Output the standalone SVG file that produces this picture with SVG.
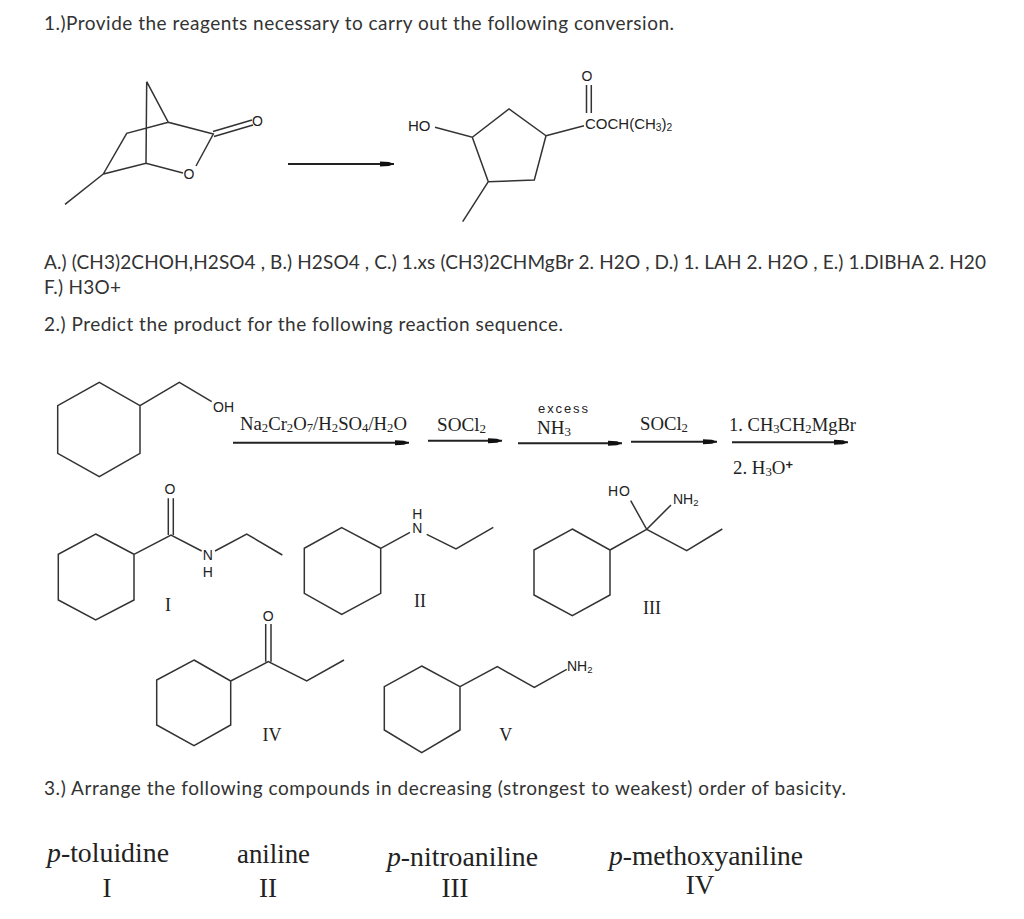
<svg xmlns="http://www.w3.org/2000/svg" width="1024" height="919" viewBox="0 0 1024 919">
<style>
.q{font-family:Lato,"Open Sans",sans-serif;font-size:19px;fill:#333}
.b{fill:none;stroke:#333;stroke-width:1.5;stroke-linejoin:miter}
.a{font-family:"Liberation Sans",Arial,sans-serif;font-size:14px;fill:#222}
.s{font-family:"Liberation Serif","Times New Roman",serif;font-size:18px;fill:#222}
.t{font-family:"Liberation Serif","Times New Roman",serif;font-size:27px;fill:#222}
.sub{font-size:68%}
.r{fill:none;stroke:#222;stroke-width:2;marker-end:url(#h)}
.m{text-anchor:middle}
</style>
<defs>
<marker id="h" markerUnits="userSpaceOnUse" markerWidth="14" markerHeight="8" refX="14" refY="4" orient="auto">
<path d="M0 1.500 L9 2 L14 4 L9 6 L0 6.500Z" fill="#111"/>
</marker>
</defs>
<rect width="1024" height="919" fill="#fff"/>

<g id="questions">
<text class="q" x="44" y="30" textLength="630">1.)Provide the reagents necessary to carry out the following conversion.</text>
<text class="q" x="44" y="269" textLength="942">A.) (CH3)2CHOH,H2SO4 , B.) H2SO4 , C.) 1.xs (CH3)2CHMgBr 2. H2O , D.) 1. LAH 2. H2O , E.) 1.DIBHA 2. H20</text>
<text class="q" x="44" y="294" textLength="77">F.) H3O+</text>
<text class="q" x="44" y="331" textLength="519">2.) Predict the product for the following reaction sequence.</text>
<text class="q" x="44" y="795" textLength="802">3.) Arrange the following compounds in decreasing (strongest to weakest) order of basicity.</text>
</g>

<g id="lactone">
<path class="b" d="M146.700 81.700L168.300 122.300L213.300 134L196 166M168.300 122.300L126.700 133.300L103.300 174L146 163.300L183 173M146.700 81.700L146 163.300M103.300 174L65 204.300M213 131.500L252 120M214 136.500L253 125"/>
<text class="a m" x="189" y="179">O</text>
<text class="a m" x="257.500" y="126">O</text>
</g>

<g id="hydroxyketone">
<path class="b" d="M435 127.300L472.300 137.300L509 109L546 135.700L534.300 180L488.300 181.700L472.300 137.300M488.300 181.700L462.700 221.700M546 135.700L584 125.700M586.500 85V113M591.300 85V113"/>
<text class="a" x="408" y="131" style="font-size:15px">HO</text>
<text class="a m" x="587" y="81" style="font-size:14px">O</text>
<text class="a" x="585" y="129" style="font-size:15px">COCH(CH<tspan class="sub" dy="2">3</tspan><tspan dy="-2">)</tspan><tspan class="sub" dy="2">2</tspan></text>
</g>

<g id="alcohol">
<path class="b" d="M99.300 382.300L140 405.700V453.300L99.300 476.700L57.700 453.300V405.700ZM140 405.700L179.300 382.300L211.700 401.700"/>
<text class="a" x="213" y="412">OH</text>
</g>

<g id="compound-I">
<path class="b" d="M95.700 534L134 554.300V600L95.700 620L58.300 600V554.300ZM134 554.300L171 535L201.700 551M215 551L246.700 534L282.300 555M168.300 498.300V535M173.300 498.300V535"/>
<text class="a m" x="170" y="494">O</text>
<text class="a m" x="207.700" y="560">N</text>
<text class="a m" x="207.700" y="577">H</text>
<text class="s m" x="168" y="611">I</text>
</g>

<g id="compound-II">
<path class="b" d="M341.700 527.700L380.700 548.300V593.300L341.700 614.300L304.300 593.300V548.300ZM380.700 548.300L410 532.300M426.700 534.300L456 549L493.300 527.300"/>
<text class="a m" x="417.300" y="518.500">H</text>
<text class="a m" x="417.300" y="533">N</text>
<text class="s m" x="420" y="607">II</text>
</g>

<g id="compound-III">
<path class="b" d="M572.300 529L610 550V595L572.300 615.700L534 595V550ZM610 550L646.700 529.300L686.700 550.700L722.300 529M630.700 500.700L646.700 529.300L671 505"/>
<text class="a" x="608" y="496" textLength="22">HO</text>
<text class="a" x="673" y="504">NH<tspan class="sub" dy="2">2</tspan></text>
<text class="s m" x="652" y="614">III</text>
</g>

<g id="compound-IV">
<path class="b" d="M194 660L230.700 681V725L194 745.700L156.700 725V680ZM230.700 681L268.300 661.700L306.700 681L344 660M265.700 624V661.700M271 624V661.700"/>
<text class="a m" x="268.300" y="621">O</text>
<text class="s m" x="272" y="741">IV</text>
</g>

<g id="compound-V">
<path class="b" d="M421.700 666L460 686.700V730L421.700 752.700L384.300 730V686.700ZM460 686.700L497.300 666.700L534.300 687.300L566.700 669.300"/>
<text class="a" x="567" y="670.500">NH<tspan class="sub" dy="2">2</tspan></text>
<text class="s m" x="505.700" y="741">V</text>
</g>

<g id="reagents">
<text class="s" x="240" y="430" textLength="167" lengthAdjust="spacingAndGlyphs">Na<tspan class="sub" dy="2">2</tspan><tspan dy="-2">Cr</tspan><tspan class="sub" dy="2">2</tspan><tspan dy="-2">O</tspan><tspan class="sub" dy="2">7</tspan><tspan dy="-2">/H</tspan><tspan class="sub" dy="2">2</tspan><tspan dy="-2">SO</tspan><tspan class="sub" dy="2">4</tspan><tspan dy="-2">/H</tspan><tspan class="sub" dy="2">2</tspan><tspan dy="-2">O</tspan></text>
<text class="s" x="437" y="431" textLength="49" lengthAdjust="spacingAndGlyphs">SOCl<tspan class="sub" dy="2">2</tspan></text>
<text class="a" x="538" y="413" textLength="50" style="font-size:13px">excess</text>
<text class="s" x="537" y="434" textLength="34" lengthAdjust="spacingAndGlyphs">NH<tspan class="sub" dy="2">3</tspan></text>
<text class="s" x="640" y="430" textLength="48" lengthAdjust="spacingAndGlyphs">SOCl<tspan class="sub" dy="2">2</tspan></text>
<text class="s" x="729" y="431" textLength="127" lengthAdjust="spacingAndGlyphs">1. CH<tspan class="sub" dy="2">3</tspan><tspan dy="-2">CH</tspan><tspan class="sub" dy="2">2</tspan><tspan dy="-2">MgBr</tspan></text>
<text class="s" x="733" y="474" textLength="60" lengthAdjust="spacingAndGlyphs">2. H<tspan class="sub" dy="2">3</tspan><tspan dy="-2">O</tspan><tspan class="sub" dy="-5" style="font-family:'Liberation Sans',sans-serif;font-weight:bold">+</tspan></text>
</g>

<g id="connectors">
<path class="r" d="M288 164H394"/>
<path class="r" d="M233 442.700H409"/>
<path class="r" d="M428 440.700H502"/>
<path class="r" d="M518 443.300H622"/>
<path class="r" d="M631 441.700H717"/>
<path class="r" d="M732 442.300H848"/>
</g>

<g id="amine-names">
<text class="t" x="47" y="862" textLength="122" lengthAdjust="spacingAndGlyphs"><tspan font-style="italic">p</tspan>-toluidine</text>
<text class="t" x="237" y="863" textLength="73" lengthAdjust="spacingAndGlyphs">aniline</text>
<text class="t" x="387" y="866" textLength="151" lengthAdjust="spacingAndGlyphs"><tspan font-style="italic">p</tspan>-nitroaniline</text>
<text class="t" x="609" y="865" textLength="194" lengthAdjust="spacingAndGlyphs"><tspan font-style="italic">p</tspan>-methoxyaniline</text>
<text class="t m" x="107" y="897">I</text>
<text class="t m" x="268" y="897">II</text>
<text class="t m" x="455" y="897">III</text>
<text class="t m" x="700" y="894">IV</text>
</g>
</svg>
